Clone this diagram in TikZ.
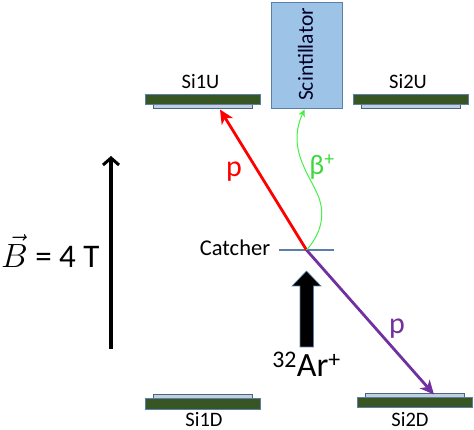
\documentclass[tikz,border=0pt]{standalone}
\usepackage{fontspec}
\setmainfont{Carlito}
\usetikzlibrary{arrows.meta}
\definecolor{sigreen}{HTML}{375623}
\definecolor{edgeblue}{HTML}{5B80A8}
\definecolor{sigrey}{HTML}{C3CFDD}
\definecolor{scint}{HTML}{9DC3E6}
\definecolor{ppurple}{HTML}{7030A0}
\definecolor{bgreen}{HTML}{44F044}
\tikzset{
 x=1pt,y=-1pt,
 sibar/.style={draw=edgeblue,fill=sigreen,line width=0.8pt,minimum width=115pt,minimum height=10.5pt,inner sep=0,outer sep=0},
 sifoil/.style={draw=edgeblue!80!black,fill=sigrey,line width=0.8pt,minimum width=99pt,minimum height=4pt,inner sep=0,outer sep=0},
 silabel/.style={font=\fontsize{20.5}{20.5}\selectfont,text=black,inner sep=0},
 track/.style={line width=2.8pt},
}
\begin{document}
\begin{tikzpicture}
\useasboundingbox (0,0) rectangle (474,430);
% scintillator
\node[draw=edgeblue,fill=scint,line width=0.8pt,minimum width=71.5pt,minimum height=106.5pt,inner sep=0] (sc) at (306.75,55.25) {};
\node[rotate=90,font=\fontsize{21.5}{21.5}\selectfont,text=black!85!blue,inner sep=0] (sclabel) at (305.5,54.5) {Scintillator};
% detectors
\node[sifoil] (f1u) at (202.5,106.5) {};
\node[sibar] (s1u) at (202.5,99.2) {};
\node[sifoil] (f2u) at (411,106.5) {};
\node[sibar] (s2u) at (411,99.2) {};
\node[sifoil] (f1d) at (202.5,396.2) {};
\node[sibar] (s1d) at (202.5,403.7) {};
\node[sifoil] (f2d) at (414.5,395) {};
\node[sibar] (s2d) at (414.5,402.5) {};
\node[silabel] (l1u) at (200.5,81.5) {Si1U};
\node[silabel] (l2u) at (408,81.5) {Si2U};
\node[silabel] (l1d) at (204,419.5) {Si1D};
\node[silabel] (l2d) at (410,419.5) {Si2D};
% catcher
\coordinate (cL) at (279,250);
\coordinate (cR) at (334,250);
\coordinate (c) at (306.5,250);
\draw[edgeblue,line width=2.4pt] (cL) -- (cR);
\node[font=\fontsize{22.5}{22.5}\selectfont,inner sep=0] (catcher) at (235,248) {Catcher};
% tracks
\coordinate (redtip) at (220,109.5);
\coordinate (purtip) at (434,394.5);
\coordinate (greentip) at (304.5,109.5);
\draw[red,track,-{Stealth[length=14pt,width=13pt,inset=4pt]}] (c) -- (redtip);
\draw[ppurple,track,-{Stealth[length=14pt,width=13pt,inset=4pt]}] (c) -- (purtip);
\draw[bgreen,line width=1pt,-{Stealth[length=7pt,width=7pt,inset=2pt]}] (c) .. controls (319,236) and (326,218) .. (319,198) .. controls (311,176) and (286,150) .. (greentip);
\node[red,font=\fontsize{30}{30}\selectfont,inner sep=0] (pu) at (234,172) {p};
\node[ppurple,font=\fontsize{30}{30}\selectfont,inner sep=0] (pd) at (397,329) {p};
\node[bgreen!90!black,font=\fontsize{28}{28}\selectfont,inner sep=0] (beta) at (322,167) {β\textsuperscript{+}};
% beam arrow
\coordinate (beamtail) at (306.5,347);
\coordinate (beamtip) at (306.5,271);
\draw[draw=edgeblue,fill=black,line width=0.6pt]
 (306.5,271) -- (321,286) -- (313.5,286) -- (313.5,347) -- (300,347) -- (300,286) -- (292,286) -- cycle;
\node[font=\fontsize{34}{34}\selectfont,inner sep=0] (ar) at (306.5,364) {\textsuperscript{32}Ar\textsuperscript{+}};
% field
\coordinate (bbot) at (111,349);
\coordinate (btop) at (111,156);
\draw[black,line width=3.4pt,-{Straight Barb[length=7pt,width=16pt,line width=3pt]}] (bbot) -- (btop);
\node[font=\fontsize{33}{33}\selectfont,inner sep=0,anchor=west] (field) at (1,251) {\scalebox{1.35}{$\vec{B}$} = 4 T};
\end{tikzpicture}
\end{document}
